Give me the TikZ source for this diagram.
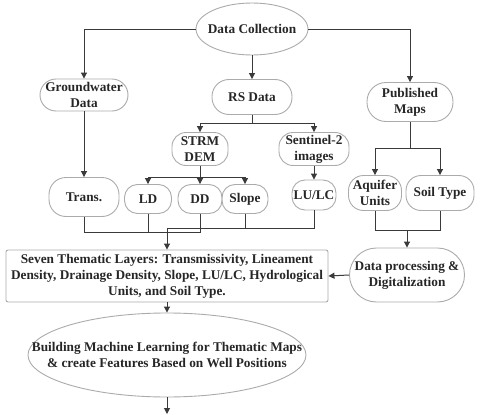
\documentclass[tikz,border=0pt]{standalone}
\usepackage{fontspec}
\setmainfont{Liberation Serif}
\usetikzlibrary{shapes.geometric,arrows.meta}
\definecolor{boxgray}{HTML}{ABABAB}
\definecolor{linegray}{HTML}{3A3A3A}
\tikzset{
  txt/.style={align=center, inner sep=0pt, font=\bfseries\fontsize{13.3}{16}\selectfont, text=black!85},
  base/.style={draw=boxgray, line width=0.9pt, txt},
  pill/.style={base, rectangle, rounded corners=#1},
  pill/.default=14pt,
  oval/.style={base, ellipse},
  conn/.style={draw=linegray, line width=1pt},
  arr/.style={conn, -{Triangle[width=6pt,length=6pt]}},
}
\begin{document}
\begin{tikzpicture}[x=1pt,y=-1pt]
\useasboundingbox (0,0) rectangle (480,415);
% nodes
\node[oval, minimum width=112pt, minimum height=52pt, label={[txt]center:Data Collection}] (dc) at (252,29) {};
\node[pill=16pt, minimum width=88pt, minimum height=32pt] (gw) at (84,95) {Groundwater\\Data};
\node[pill=17pt, minimum width=80pt, minimum height=35pt] (rs) at (252,97) {RS Data};
\node[pill=19pt, minimum width=86pt, minimum height=39pt] (pm) at (410,102) {Published\\Maps};
\node[pill=14pt, minimum width=56pt, minimum height=33pt] (strm) at (200,149) {STRM\\DEM};
\node[pill=14pt, minimum width=70pt, minimum height=33pt] (sen) at (314,149) {Sentinel-2\\images};
\node[pill=17pt, minimum width=70pt, minimum height=39pt] (trans) at (84,197) {Trans.};
\node[pill=13pt, minimum width=47pt, minimum height=29pt] (ld) at (148,199) {LD};
\node[pill=13pt, minimum width=44pt, minimum height=29pt] (dd) at (200,199) {DD};
\node[pill=13pt, minimum width=46pt, minimum height=29pt] (slope) at (245,199) {Slope};
\node[pill=13pt, minimum width=44pt, minimum height=30pt] (lulc) at (314,195) {LU/LC};
\node[pill=15pt, minimum width=53pt, minimum height=35pt] (aq) at (375,193) {Aquifer\\Units};
\node[pill=15pt, minimum width=68pt, minimum height=35pt] (soil) at (440,193) {Soil Type};
\node[pill=2pt, minimum width=322pt, minimum height=52pt] (seven) at (167,276)
  {Seven Thematic Layers: Transmissivity, Lineament\\Density, Drainage Density, Slope, LU/LC, Hydrological\\Units, and Soil Type.};
\node[pill=27pt, minimum width=115pt, minimum height=54pt] (dp) at (407,275) {Data processing \&\\Digitalization};
\node[oval, minimum width=278pt, minimum height=84pt,
  label={[txt]center:{Building Machine Learning for Thematic Maps\\\& create Features Based on Well Positions}}] (ml) at (167,355) {};
% junction coordinates
\coordinate (rsj) at (252,123);
\coordinate (strmj) at (200,177);
\coordinate (pmj) at (410,148);
\coordinate (lowL) at (84,232);
\coordinate (lowR) at (200,232);
\coordinate (upj) at (167,228);
\coordinate (aqj) at (375,230);
\coordinate (soilj) at (440,230);
\coordinate (dpj) at (407,230);
\coordinate (endpt) at (167,414);
% connectors
\draw[arr] (dc.west) -| (gw.north);
\draw[arr] (dc.east) -| (pm.north);
\draw[arr] (dc.south) -- (rs.north);
\draw[arr] (gw.south) -- (trans.north);
\draw[conn] (rs.south) -- (rsj);
\draw[arr] (rsj) -| (strm.north);
\draw[arr] (rsj) -| (sen.north);
\draw[conn] (strm.south) -- (strmj);
\draw[arr] (strmj) -| (ld.north);
\draw[arr] (strmj) -- (dd.north);
\draw[arr] (strmj) -| (slope.north);
\draw[arr] (sen.south) -- (lulc.north);
\draw[conn] (pm.south) -- (pmj);
\draw[arr] (pmj) -| (aq.north);
\draw[arr] (pmj) -| (soil.north);
\draw[conn] (aq.south) -- (aqj) -- (soilj) -- (soil.south);
\draw[arr] (dpj) -- (dp.north);
\draw[conn] (trans.south) -- (lowL) -- (lowR) -- (dd.south);
\draw[conn] (ld.south) -- (ld.south |- lowL);
\draw[conn] (lulc.south) |- (upj);
\draw[conn] (slope.south) -- (slope.south |- upj);
\draw[arr] (upj) -- (seven.north);
\draw[arr] (dp.west) -- (seven.east);
\draw[arr] (seven.south) -- (ml.north);
\draw[arr] (ml.south) -- (endpt);
\end{tikzpicture}
\end{document}
